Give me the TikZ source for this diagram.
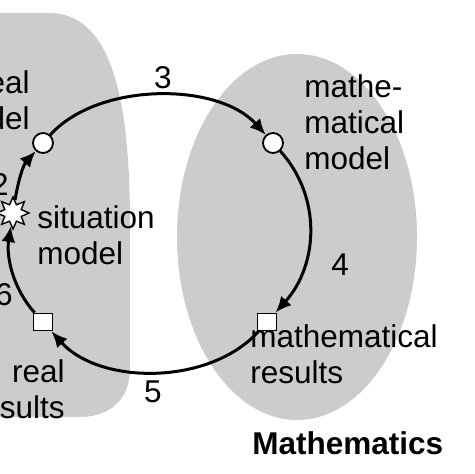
\documentclass[tikz,border=0pt]{standalone}
\usepackage{fontspec}
\setmainfont{Liberation Sans}
\usetikzlibrary{arrows.meta,shapes.geometric,positioning}
\definecolor{worldgray}{RGB}{204,204,204}
\tikzset{stage/.style={circle,draw,fill=white,line width=0.9pt,minimum size=10pt,inner sep=0pt}}
\tikzset{result/.style={rectangle,draw,fill=white,line width=0.9pt,minimum width=9.5pt,minimum height=8.5pt,inner sep=0pt}}
\tikzset{blast/.style={star,star points=8,star point ratio=1.8,draw,fill=white,line width=0.7pt,minimum size=16pt,inner sep=0pt}}
\tikzset{cyc/.style={line width=1.5pt,-{Latex[length=8pt,width=7pt]}}}
\tikzset{lbl/.style={font=\fontsize{15.75}{18}\selectfont,inner sep=0pt}}

\begin{document}
\begin{tikzpicture}[x=0.5pt,y=0.5pt]
\useasboundingbox (0,0) rectangle (474,474);

% the two worlds
\fill[worldgray] (-30,57) -- (-30,461) -- (50,461) .. controls (110,460) and (130,380) .. (130,250)
   -- (130,105) .. controls (130,75) and (110,57) .. (80,57) -- cycle;
\fill[worldgray] (297,237) ellipse (120 and 183);

% steps of the cycle
\node[blast]  (sit)   at (13,261)  {};
\node[stage]  (rmod)  at (43,331)  {};
\node[stage]  (mmod)  at (273,331) {};
\node[result] (mres)  at (267,152) {};
\node[result] (rres)  at (43,152)  {};

\draw[cyc] (sit)  to[out=81,in=228,looseness=0.9] (rmod);
\draw[cyc] (rmod) to[out=48,in=132,looseness=0.85] (mmod);
\draw[cyc] (mmod) to[out=-48,in=48] (mres);
\draw[cyc] (mres) to[out=228,in=-48,looseness=0.9] (rres);
\draw[cyc] (rres) to[out=132,in=-99,looseness=0.9] (sit);

% numbers
\node[lbl] (n2) at (0,289)   {2};
\node[lbl] (n3) at (163,396) {3};
\node[lbl] (n4) at (340,209) {4};
\node[lbl] (n5) at (153,82)  {5};
\node[lbl] (n6) at (4,179)   {6};

% names (base = last line)
\node[lbl,anchor=base east,align=right] (trm) at (30,344)  {real\\model};
\node[lbl,anchor=base west,align=left]  (tsm) at (37,209)  {situation\\model};
\node[lbl,anchor=base west,align=left]  (tmm) at (304,304) {mathe-\\matical\\model};
\node[lbl,anchor=base west,align=left]  (tmr) at (250,90)  {mathematical\\results};
\node[lbl,anchor=base east,align=right] (trr) at (65,55)   {real\\results};
\node[lbl,anchor=base west,font=\fontsize{15.75}{18}\selectfont\bfseries] (tmath) at (252,19) {Mathematics};
\end{tikzpicture}
\end{document}
